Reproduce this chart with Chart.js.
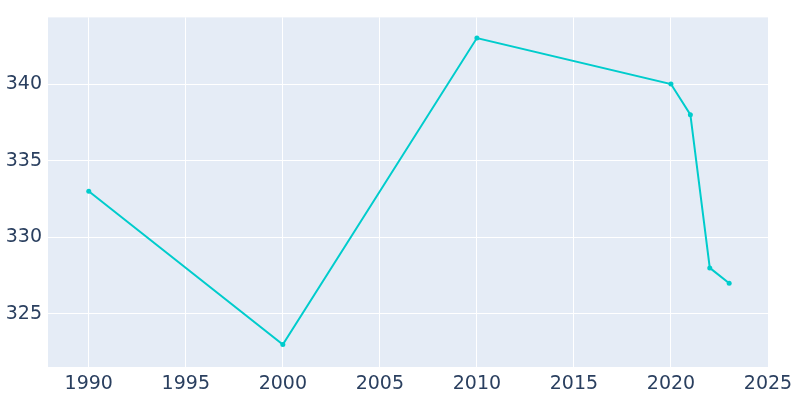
<!DOCTYPE html>
<html><head><script src="https://cdn.jsdelivr.net/npm/chart.js"></script>
<style>body{margin:0}#w{width:800px;height:400px}</style></head>
<body><div id="w"><canvas id="c"></canvas></div>
<script>
const years=[1990,2000,2010,2020,2021,2022,2023];
const population=[333,323,343,340,338,328,327];
const xTicks=[1990,1995,2000,2005,2010,2015,2020,2025];
const yTicks=[325,330,335,340];
const bg={id:'bg',beforeDraw(c){const a=c.chartArea,x=c.ctx;x.save();x.fillStyle='#e5ecf6';x.fillRect(a.left,a.top,a.right-a.left,a.bottom-a.top);x.restore();}};
const font={family:'DejaVu Sans',size:19};
new Chart(document.getElementById('c'),{type:'line',
data:{datasets:[{data:years.map((y,i)=>({x:y,y:population[i]})),borderColor:'#00cccc',backgroundColor:'#00cccc',borderWidth:2,pointRadius:2.5,pointBorderWidth:0,tension:0}]},
options:{responsive:true,maintainAspectRatio:false,animation:false,
layout:{padding:{left:0,right:32,top:-7,bottom:0}},
plugins:{legend:{display:false},tooltip:{enabled:false}},
scales:{
x:{type:'linear',min:1987.9,max:2025,afterBuildTicks(s){s.ticks=xTicks.map(v=>({value:v}));},
afterFit(s){s.height=33;},
grid:{color:'#ffffff',lineWidth:1,drawTicks:false},border:{display:false},
ticks:{font,color:'#2a3f5f',padding:6,maxRotation:0,callback:v=>String(v)}},
y:{min:321.53,max:344.35,afterBuildTicks(s){s.ticks=yTicks.map(v=>({value:v}));},
afterFit(s){s.width=48;},
grid:{color:'#ffffff',lineWidth:1,drawTicks:false},border:{display:false},
ticks:{font,color:'#2a3f5f',padding:6}}}},
plugins:[bg]});
</script></body></html>
